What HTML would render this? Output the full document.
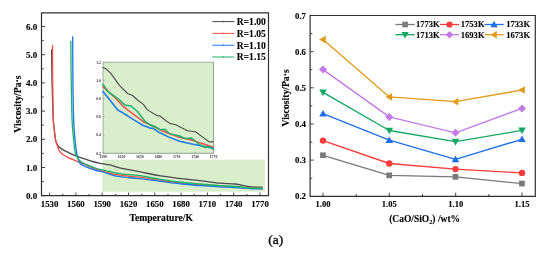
<!DOCTYPE html>
<html><head><meta charset="utf-8"><title>Figure</title>
<style>html,body{margin:0;padding:0;background:#fff;}svg{display:block}</style></head>
<body><svg width="550" height="253" viewBox="0 0 550 253">
<rect width="550" height="253" fill="#ffffff"/>
<rect x="102.3" y="159.7" width="162.6" height="32.0" fill="#d9efcb"/>
<rect x="103.1" y="62.2" width="110.4" height="91.1" fill="#d9efcb"/>
<path d="M103.1,153.3 L103.1,62.2 L213.5,62.2" fill="none" stroke="#9aa39a" stroke-width="0.9"/>
<path d="M103.1,153.3 L213.5,153.3 L213.5,62.2" fill="none" stroke="#808b7a" stroke-width="0.8"/>
<path d="M51.6,50.0 C51.7,55.0 51.8,70.8 52.0,80.0 C52.2,89.2 52.5,98.3 52.7,105.0 C52.9,111.7 53.0,115.8 53.3,120.0 C53.6,124.2 53.9,126.6 54.3,129.9 C54.7,133.2 55.1,137.5 55.5,139.8 C55.9,142.1 56.4,142.5 56.9,143.7 C57.4,144.8 57.8,145.7 58.8,146.7 C59.8,147.7 61.1,148.6 62.8,149.6 C64.5,150.6 66.4,151.5 68.7,152.6 C71.0,153.7 73.9,155.1 76.6,156.2 C79.3,157.2 82.3,158.0 84.9,158.9 C87.5,159.8 89.9,160.8 92.4,161.5 C94.9,162.2 97.1,162.8 100.0,163.4 C102.9,164.0 106.6,164.1 109.9,164.8 C113.2,165.5 114.9,166.7 119.8,167.8 C124.7,169.0 132.9,170.4 139.5,171.7 C146.1,173.0 152.7,174.6 159.3,175.7 C165.9,176.8 172.2,177.5 179.0,178.3 C185.8,179.1 193.1,179.8 199.8,180.6 C206.6,181.4 213.6,182.6 219.5,183.2 C225.4,183.8 230.4,183.4 235.3,184.0 C240.2,184.6 244.8,186.1 249.2,186.6 C253.6,187.1 259.9,187.1 262.0,187.2" fill="none" stroke="#4a4a4a" stroke-width="1.3" stroke-linejoin="round" stroke-linecap="round"/>
<path d="M52.5,45.3 C52.5,51.1 52.6,70.0 52.7,80.0 C52.8,90.0 52.9,98.3 53.0,105.0 C53.1,111.7 53.1,115.8 53.3,120.0 C53.5,124.2 53.9,126.6 54.3,129.9 C54.7,133.2 55.0,137.2 55.5,139.8 C56.0,142.4 56.7,143.9 57.3,145.7 C57.9,147.5 58.3,149.1 59.2,150.6 C60.1,152.1 61.2,153.4 62.8,154.6 C64.4,155.8 66.4,156.8 68.7,157.9 C71.0,159.0 73.9,160.0 76.6,161.1 C79.3,162.2 81.9,163.2 84.9,164.5 C87.9,165.8 91.5,167.6 94.8,168.8 C98.1,170.0 100.8,170.8 105.0,171.9 C109.2,173.0 114.0,174.3 119.8,175.2 C125.5,176.1 132.9,176.4 139.5,177.2 C146.1,178.0 152.7,179.3 159.3,180.2 C165.9,181.1 172.2,182.0 179.0,182.8 C185.8,183.6 193.1,184.2 199.8,184.8 C206.6,185.4 213.6,185.8 219.5,186.2 C225.4,186.6 230.4,186.7 235.3,187.0 C240.2,187.3 244.8,187.9 249.2,188.2 C253.6,188.5 259.9,188.6 262.0,188.7" fill="none" stroke="#f0504f" stroke-width="1.3" stroke-linejoin="round" stroke-linecap="round"/>
<path d="M72.7,36.8 C72.7,44.0 72.8,68.6 72.9,80.0 C73.0,91.4 73.2,98.3 73.3,105.0 C73.4,111.7 73.5,115.8 73.7,120.0 C73.9,124.2 74.0,126.6 74.2,129.9 C74.4,133.2 74.7,136.5 75.0,139.8 C75.3,143.1 75.8,146.7 76.2,149.6 C76.6,152.5 76.9,155.2 77.6,157.5 C78.3,159.8 79.0,162.0 80.2,163.5 C81.4,165.0 82.5,165.3 84.9,166.4 C87.3,167.5 91.5,169.0 94.8,170.0 C98.1,171.0 102.5,171.9 105.0,172.6 C107.5,173.3 107.4,173.6 109.9,174.3 C112.4,175.0 114.9,176.0 119.8,176.7 C124.7,177.4 132.9,177.9 139.5,178.7 C146.1,179.4 152.7,180.4 159.3,181.2 C165.9,182.0 172.2,182.9 179.0,183.6 C185.8,184.3 193.1,185.1 199.8,185.6 C206.6,186.1 213.6,186.5 219.5,186.8 C225.4,187.1 230.4,187.2 235.3,187.5 C240.2,187.8 244.8,188.2 249.2,188.5 C253.6,188.8 259.9,188.9 262.0,189.0" fill="none" stroke="#1e78e6" stroke-width="1.35" stroke-linejoin="round" stroke-linecap="round"/>
<path d="M70.8,41.3 C70.9,47.8 71.0,69.4 71.2,80.0 C71.4,90.6 71.6,98.3 71.7,105.0 C71.8,111.7 71.9,115.8 72.1,120.0 C72.3,124.2 72.4,126.6 72.7,129.9 C73.0,133.2 73.4,136.5 73.7,139.8 C74.0,143.1 74.1,146.8 74.6,149.6 C75.1,152.4 75.8,154.8 76.6,156.6 C77.4,158.4 78.2,159.3 79.6,160.5 C81.0,161.7 82.4,162.6 84.9,163.8 C87.4,165.0 92.3,166.9 94.8,167.8 C97.3,168.7 97.5,168.8 100.0,169.4 C102.5,170.0 106.6,170.8 109.9,171.5 C113.2,172.2 114.9,173.0 119.8,173.7 C124.7,174.4 132.9,174.8 139.5,175.7 C146.1,176.6 152.7,178.1 159.3,179.2 C165.9,180.2 172.2,181.2 179.0,182.0 C185.8,182.8 193.1,183.4 199.8,184.0 C206.6,184.6 213.6,185.2 219.5,185.6 C225.4,186.0 230.4,186.1 235.3,186.5 C240.2,186.9 244.8,187.7 249.2,188.0 C253.6,188.3 259.9,188.4 262.0,188.5" fill="none" stroke="#1faf6a" stroke-width="1.3" stroke-linejoin="round" stroke-linecap="round"/>
<path d="M102.9,67.5 L106.0,68.8 L110.8,73.4 L119.7,85.6 L127.6,93.5 L132.6,95.5 L137.5,100.0 L143.4,104.4 L147.4,109.9 L157.3,115.8 L159.9,115.9 L166.0,120.8 L169.8,123.4 L175.7,124.8 L187.5,130.7 L195.5,131.7 L203.4,137.6 L209.3,142.0 L213.2,141.6" fill="none" stroke="#4a4a4a" stroke-width="1.1" stroke-linejoin="round" stroke-linecap="round"/>
<path d="M102.9,86.6 L115.8,98.5 L123.7,106.9 L131.6,112.8 L143.4,121.7 L150.0,124.8 L159.9,129.7 L169.8,134.0 L179.6,137.2 L191.5,140.0 L199.4,142.6 L205.3,144.5 L213.2,147.1" fill="none" stroke="#f0504f" stroke-width="1.5" stroke-linejoin="round" stroke-linecap="round"/>
<path d="M102.9,91.6 L107.9,97.5 L109.8,100.0 L117.7,109.9 L127.6,115.8 L141.5,124.7 L150.0,128.1 L153.0,128.3 L157.9,131.7 L169.8,137.6 L179.6,141.2 L189.5,143.5 L199.4,145.5 L209.3,147.5 L213.2,148.5" fill="none" stroke="#1e78e6" stroke-width="1.6" stroke-linejoin="round" stroke-linecap="round"/>
<path d="M102.9,84.1 L107.9,91.6 L115.8,97.1 L119.7,100.0 L124.7,104.9 L130.6,105.9 L137.5,111.5 L145.4,121.7 L150.0,124.8 L155.3,126.7 L159.9,129.7 L164.8,129.3 L169.8,133.7 L179.6,136.0 L185.6,138.6 L191.5,138.0 L199.4,144.5 L205.3,147.5 L209.3,146.5 L213.2,149.1" fill="none" stroke="#1faf6a" stroke-width="1.5" stroke-linejoin="round" stroke-linecap="round"/>
<line x1="103.1" y1="62.2" x2="104.6" y2="62.2" stroke="#777" stroke-width="0.4"/>
<text x="100.9" y="63.5" text-anchor="end" style="font-family:'Liberation Serif',serif;font-size:3.8px;font-weight:bold" fill="#333">1.2</text>
<line x1="103.1" y1="80.4" x2="104.6" y2="80.4" stroke="#777" stroke-width="0.4"/>
<text x="100.9" y="81.7" text-anchor="end" style="font-family:'Liberation Serif',serif;font-size:3.8px;font-weight:bold" fill="#333">1.0</text>
<line x1="103.1" y1="98.6" x2="104.6" y2="98.6" stroke="#777" stroke-width="0.4"/>
<text x="100.9" y="99.9" text-anchor="end" style="font-family:'Liberation Serif',serif;font-size:3.8px;font-weight:bold" fill="#333">0.8</text>
<line x1="103.1" y1="116.9" x2="104.6" y2="116.9" stroke="#777" stroke-width="0.4"/>
<text x="100.9" y="118.2" text-anchor="end" style="font-family:'Liberation Serif',serif;font-size:3.8px;font-weight:bold" fill="#333">0.6</text>
<line x1="103.1" y1="135.1" x2="104.6" y2="135.1" stroke="#777" stroke-width="0.4"/>
<text x="100.9" y="136.4" text-anchor="end" style="font-family:'Liberation Serif',serif;font-size:3.8px;font-weight:bold" fill="#333">0.4</text>
<line x1="103.1" y1="153.3" x2="104.6" y2="153.3" stroke="#777" stroke-width="0.4"/>
<text x="100.9" y="154.6" text-anchor="end" style="font-family:'Liberation Serif',serif;font-size:3.8px;font-weight:bold" fill="#333">0.2</text>
<line x1="103.1" y1="153.3" x2="103.1" y2="151.8" stroke="#777" stroke-width="0.4"/>
<text x="103.1" y="158.0" text-anchor="middle" style="font-family:'Liberation Serif',serif;font-size:3.8px;font-weight:bold" fill="#333">1590</text>
<line x1="121.5" y1="153.3" x2="121.5" y2="151.8" stroke="#777" stroke-width="0.4"/>
<text x="121.5" y="158.0" text-anchor="middle" style="font-family:'Liberation Serif',serif;font-size:3.8px;font-weight:bold" fill="#333">1620</text>
<line x1="139.9" y1="153.3" x2="139.9" y2="151.8" stroke="#777" stroke-width="0.4"/>
<text x="139.9" y="158.0" text-anchor="middle" style="font-family:'Liberation Serif',serif;font-size:3.8px;font-weight:bold" fill="#333">1650</text>
<line x1="158.3" y1="153.3" x2="158.3" y2="151.8" stroke="#777" stroke-width="0.4"/>
<text x="158.3" y="158.0" text-anchor="middle" style="font-family:'Liberation Serif',serif;font-size:3.8px;font-weight:bold" fill="#333">1680</text>
<line x1="176.7" y1="153.3" x2="176.7" y2="151.8" stroke="#777" stroke-width="0.4"/>
<text x="176.7" y="158.0" text-anchor="middle" style="font-family:'Liberation Serif',serif;font-size:3.8px;font-weight:bold" fill="#333">1710</text>
<line x1="195.1" y1="153.3" x2="195.1" y2="151.8" stroke="#777" stroke-width="0.4"/>
<text x="195.1" y="158.0" text-anchor="middle" style="font-family:'Liberation Serif',serif;font-size:3.8px;font-weight:bold" fill="#333">1740</text>
<line x1="213.5" y1="153.3" x2="213.5" y2="151.8" stroke="#777" stroke-width="0.4"/>
<text x="213.5" y="158.0" text-anchor="middle" style="font-family:'Liberation Serif',serif;font-size:3.8px;font-weight:bold" fill="#333">1770</text>
<path d="M41.5,195.7 L41.5,12.9 L268.5,12.9 L268.5,195.7 Z" fill="none" stroke="#303030" stroke-width="1.2"/>
<line x1="41.5" y1="195.7" x2="45.1" y2="195.7" stroke="#303030" stroke-width="0.9"/>
<text x="37.2" y="198.8" text-anchor="end" style="font-family:'Liberation Serif',serif;font-size:9px;font-weight:bold" fill="#000" stroke="#000" stroke-width="0.12">0.0</text>
<line x1="41.5" y1="181.6" x2="43.7" y2="181.6" stroke="#303030" stroke-width="0.9"/>
<line x1="41.5" y1="167.5" x2="45.1" y2="167.5" stroke="#303030" stroke-width="0.9"/>
<text x="37.2" y="170.6" text-anchor="end" style="font-family:'Liberation Serif',serif;font-size:9px;font-weight:bold" fill="#000" stroke="#000" stroke-width="0.12">1.0</text>
<line x1="41.5" y1="153.4" x2="43.7" y2="153.4" stroke="#303030" stroke-width="0.9"/>
<line x1="41.5" y1="139.3" x2="45.1" y2="139.3" stroke="#303030" stroke-width="0.9"/>
<text x="37.2" y="142.4" text-anchor="end" style="font-family:'Liberation Serif',serif;font-size:9px;font-weight:bold" fill="#000" stroke="#000" stroke-width="0.12">2.0</text>
<line x1="41.5" y1="125.2" x2="43.7" y2="125.2" stroke="#303030" stroke-width="0.9"/>
<line x1="41.5" y1="111.1" x2="45.1" y2="111.1" stroke="#303030" stroke-width="0.9"/>
<text x="37.2" y="114.2" text-anchor="end" style="font-family:'Liberation Serif',serif;font-size:9px;font-weight:bold" fill="#000" stroke="#000" stroke-width="0.12">3.0</text>
<line x1="41.5" y1="97.0" x2="43.7" y2="97.0" stroke="#303030" stroke-width="0.9"/>
<line x1="41.5" y1="82.9" x2="45.1" y2="82.9" stroke="#303030" stroke-width="0.9"/>
<text x="37.2" y="86.0" text-anchor="end" style="font-family:'Liberation Serif',serif;font-size:9px;font-weight:bold" fill="#000" stroke="#000" stroke-width="0.12">4.0</text>
<line x1="41.5" y1="68.8" x2="43.7" y2="68.8" stroke="#303030" stroke-width="0.9"/>
<line x1="41.5" y1="54.7" x2="45.1" y2="54.7" stroke="#303030" stroke-width="0.9"/>
<text x="37.2" y="57.8" text-anchor="end" style="font-family:'Liberation Serif',serif;font-size:9px;font-weight:bold" fill="#000" stroke="#000" stroke-width="0.12">5.0</text>
<line x1="41.5" y1="40.6" x2="43.7" y2="40.6" stroke="#303030" stroke-width="0.9"/>
<line x1="41.5" y1="26.5" x2="45.1" y2="26.5" stroke="#303030" stroke-width="0.9"/>
<text x="37.2" y="29.6" text-anchor="end" style="font-family:'Liberation Serif',serif;font-size:9px;font-weight:bold" fill="#000" stroke="#000" stroke-width="0.12">6.0</text>
<line x1="49.6" y1="195.7" x2="49.6" y2="192.6" stroke="#303030" stroke-width="0.9"/>
<text x="49.6" y="207" text-anchor="middle" style="font-family:'Liberation Serif',serif;font-size:8.8px;font-weight:bold" fill="#000" stroke="#000" stroke-width="0.12">1530</text>
<line x1="62.8" y1="195.7" x2="62.8" y2="193.89999999999998" stroke="#303030" stroke-width="0.9"/>
<line x1="75.9" y1="195.7" x2="75.9" y2="192.6" stroke="#303030" stroke-width="0.9"/>
<text x="75.9" y="207" text-anchor="middle" style="font-family:'Liberation Serif',serif;font-size:8.8px;font-weight:bold" fill="#000" stroke="#000" stroke-width="0.12">1560</text>
<line x1="89.1" y1="195.7" x2="89.1" y2="193.89999999999998" stroke="#303030" stroke-width="0.9"/>
<line x1="102.2" y1="195.7" x2="102.2" y2="192.6" stroke="#303030" stroke-width="0.9"/>
<text x="102.2" y="207" text-anchor="middle" style="font-family:'Liberation Serif',serif;font-size:8.8px;font-weight:bold" fill="#000" stroke="#000" stroke-width="0.12">1590</text>
<line x1="115.4" y1="195.7" x2="115.4" y2="193.89999999999998" stroke="#303030" stroke-width="0.9"/>
<line x1="128.5" y1="195.7" x2="128.5" y2="192.6" stroke="#303030" stroke-width="0.9"/>
<text x="128.5" y="207" text-anchor="middle" style="font-family:'Liberation Serif',serif;font-size:8.8px;font-weight:bold" fill="#000" stroke="#000" stroke-width="0.12">1620</text>
<line x1="141.7" y1="195.7" x2="141.7" y2="193.89999999999998" stroke="#303030" stroke-width="0.9"/>
<line x1="154.8" y1="195.7" x2="154.8" y2="192.6" stroke="#303030" stroke-width="0.9"/>
<text x="154.8" y="207" text-anchor="middle" style="font-family:'Liberation Serif',serif;font-size:8.8px;font-weight:bold" fill="#000" stroke="#000" stroke-width="0.12">1650</text>
<line x1="168.0" y1="195.7" x2="168.0" y2="193.89999999999998" stroke="#303030" stroke-width="0.9"/>
<line x1="181.1" y1="195.7" x2="181.1" y2="192.6" stroke="#303030" stroke-width="0.9"/>
<text x="181.1" y="207" text-anchor="middle" style="font-family:'Liberation Serif',serif;font-size:8.8px;font-weight:bold" fill="#000" stroke="#000" stroke-width="0.12">1680</text>
<line x1="194.3" y1="195.7" x2="194.3" y2="193.89999999999998" stroke="#303030" stroke-width="0.9"/>
<line x1="207.4" y1="195.7" x2="207.4" y2="192.6" stroke="#303030" stroke-width="0.9"/>
<text x="207.4" y="207" text-anchor="middle" style="font-family:'Liberation Serif',serif;font-size:8.8px;font-weight:bold" fill="#000" stroke="#000" stroke-width="0.12">1710</text>
<line x1="220.6" y1="195.7" x2="220.6" y2="193.89999999999998" stroke="#303030" stroke-width="0.9"/>
<line x1="233.7" y1="195.7" x2="233.7" y2="192.6" stroke="#303030" stroke-width="0.9"/>
<text x="233.7" y="207" text-anchor="middle" style="font-family:'Liberation Serif',serif;font-size:8.8px;font-weight:bold" fill="#000" stroke="#000" stroke-width="0.12">1740</text>
<line x1="246.9" y1="195.7" x2="246.9" y2="193.89999999999998" stroke="#303030" stroke-width="0.9"/>
<line x1="260.0" y1="195.7" x2="260.0" y2="192.6" stroke="#303030" stroke-width="0.9"/>
<text x="260.0" y="207" text-anchor="middle" style="font-family:'Liberation Serif',serif;font-size:8.8px;font-weight:bold" fill="#000" stroke="#000" stroke-width="0.12">1770</text>
<text x="161.2" y="220.5" text-anchor="middle" style="font-family:'Liberation Serif',serif;font-size:9.6px;font-weight:bold" fill="#000" stroke="#000" stroke-width="0.12">Temperature/K</text>
<text transform="translate(20.5,104.1) rotate(-90)" text-anchor="middle" style="font-family:'Liberation Serif',serif;font-size:9.7px;font-weight:bold" fill="#000" stroke="#000" stroke-width="0.12">Viscosity/Pa·s</text>
<line x1="212.3" y1="21.6" x2="234.4" y2="21.6" stroke="#4a4a4a" stroke-width="1.0"/>
<line x1="223.3" y1="20.7" x2="223.3" y2="22.5" stroke="#4a4a4a" stroke-width="0.8"/>
<text x="236.7" y="24.9" style="font-family:'Liberation Serif',serif;font-size:9.6px;font-weight:bold" fill="#000" stroke="#000" stroke-width="0.12">R=1.00</text>
<line x1="212.3" y1="33.4" x2="234.4" y2="33.4" stroke="#f0504f" stroke-width="1.0"/>
<line x1="223.3" y1="32.5" x2="223.3" y2="34.3" stroke="#f0504f" stroke-width="0.8"/>
<text x="236.7" y="36.7" style="font-family:'Liberation Serif',serif;font-size:9.6px;font-weight:bold" fill="#000" stroke="#000" stroke-width="0.12">R=1.05</text>
<line x1="212.3" y1="45.2" x2="234.4" y2="45.2" stroke="#1e78e6" stroke-width="1.0"/>
<line x1="223.3" y1="44.3" x2="223.3" y2="46.1" stroke="#1e78e6" stroke-width="0.8"/>
<text x="236.7" y="48.5" style="font-family:'Liberation Serif',serif;font-size:9.6px;font-weight:bold" fill="#000" stroke="#000" stroke-width="0.12">R=1.10</text>
<line x1="212.3" y1="57.0" x2="234.4" y2="57.0" stroke="#1faf6a" stroke-width="1.0"/>
<line x1="223.3" y1="56.1" x2="223.3" y2="57.9" stroke="#1faf6a" stroke-width="0.8"/>
<text x="236.7" y="60.3" style="font-family:'Liberation Serif',serif;font-size:9.6px;font-weight:bold" fill="#000" stroke="#000" stroke-width="0.12">R=1.15</text>
<path d="M323.0,155.3 L389.3,175.4 L455.5,176.9 L522.0,183.6" fill="none" stroke="#7a7a7a" stroke-width="1.35" stroke-linejoin="round" stroke-linecap="round"/>
<rect x="320.1" y="152.4" width="5.7" height="5.7" fill="#7a7a7a"/>
<rect x="386.4" y="172.5" width="5.7" height="5.7" fill="#7a7a7a"/>
<rect x="452.6" y="174.0" width="5.7" height="5.7" fill="#7a7a7a"/>
<rect x="519.1" y="180.7" width="5.7" height="5.7" fill="#7a7a7a"/>
<path d="M323.0,140.6 L389.3,163.5 L455.5,169.1 L522.0,172.9" fill="none" stroke="#fa3c3c" stroke-width="1.35" stroke-linejoin="round" stroke-linecap="round"/>
<circle cx="323.0" cy="140.6" r="3.2" fill="#fa3c3c"/>
<circle cx="389.3" cy="163.5" r="3.2" fill="#fa3c3c"/>
<circle cx="455.5" cy="169.1" r="3.2" fill="#fa3c3c"/>
<circle cx="522.0" cy="172.9" r="3.2" fill="#fa3c3c"/>
<path d="M323.0,113.7 L389.3,140.2 L455.5,159.4 L522.0,139.3" fill="none" stroke="#1f6fe8" stroke-width="1.35" stroke-linejoin="round" stroke-linecap="round"/>
<path d="M323.0,109.9 L326.8,116.5 L319.2,116.5 Z" fill="#1f6fe8"/>
<path d="M389.3,136.4 L393.1,143.0 L385.5,143.0 Z" fill="#1f6fe8"/>
<path d="M455.5,155.6 L459.3,162.2 L451.7,162.2 Z" fill="#1f6fe8"/>
<path d="M522.0,135.5 L525.8,142.1 L518.2,142.1 Z" fill="#1f6fe8"/>
<path d="M323.0,92.3 L389.3,130.5 L455.5,141.6 L522.0,130.4" fill="none" stroke="#12a861" stroke-width="1.35" stroke-linejoin="round" stroke-linecap="round"/>
<path d="M323.0,96.1 L326.8,89.5 L319.2,89.5 Z" fill="#12a861"/>
<path d="M389.3,134.3 L393.1,127.7 L385.5,127.7 Z" fill="#12a861"/>
<path d="M455.5,145.4 L459.3,138.8 L451.7,138.8 Z" fill="#12a861"/>
<path d="M522.0,134.2 L525.8,127.6 L518.2,127.6 Z" fill="#12a861"/>
<path d="M323.0,69.6 L389.3,116.9 L455.5,132.8 L522.0,108.4" fill="none" stroke="#c479e6" stroke-width="1.35" stroke-linejoin="round" stroke-linecap="round"/>
<path d="M323.0,65.6 L327.0,69.6 L323.0,73.6 L319.0,69.6 Z" fill="#c479e6"/>
<path d="M389.3,112.9 L393.3,116.9 L389.3,120.9 L385.3,116.9 Z" fill="#c479e6"/>
<path d="M455.5,128.8 L459.5,132.8 L455.5,136.8 L451.5,132.8 Z" fill="#c479e6"/>
<path d="M522.0,104.4 L526.0,108.4 L522.0,112.4 L518.0,108.4 Z" fill="#c479e6"/>
<path d="M323.0,39.6 L389.3,96.9 L455.5,101.7 L522.0,90.0" fill="none" stroke="#e09b1c" stroke-width="1.35" stroke-linejoin="round" stroke-linecap="round"/>
<path d="M319.2,39.6 L325.8,35.8 L325.8,43.4 Z" fill="#e09b1c"/>
<path d="M385.5,96.9 L392.1,93.1 L392.1,100.7 Z" fill="#e09b1c"/>
<path d="M451.7,101.7 L458.3,97.9 L458.3,105.5 Z" fill="#e09b1c"/>
<path d="M518.2,90.0 L524.8,86.2 L524.8,93.8 Z" fill="#e09b1c"/>
<path d="M310.1,196.3 L310.1,15.5 L535.3,15.5 L535.3,196.3 Z" fill="none" stroke="#303030" stroke-width="1.2"/>
<text x="306" y="199.3" text-anchor="end" style="font-family:'Liberation Serif',serif;font-size:8.8px;font-weight:bold" fill="#000" stroke="#000" stroke-width="0.12">0.2</text>
<line x1="310.1" y1="178.2" x2="312.3" y2="178.2" stroke="#303030" stroke-width="0.9"/>
<line x1="310.1" y1="160.1" x2="313.70000000000005" y2="160.1" stroke="#303030" stroke-width="0.9"/>
<text x="306" y="163.1" text-anchor="end" style="font-family:'Liberation Serif',serif;font-size:8.8px;font-weight:bold" fill="#000" stroke="#000" stroke-width="0.12">0.3</text>
<line x1="310.1" y1="142.1" x2="312.3" y2="142.1" stroke="#303030" stroke-width="0.9"/>
<line x1="310.1" y1="124.0" x2="313.70000000000005" y2="124.0" stroke="#303030" stroke-width="0.9"/>
<text x="306" y="127.0" text-anchor="end" style="font-family:'Liberation Serif',serif;font-size:8.8px;font-weight:bold" fill="#000" stroke="#000" stroke-width="0.12">0.4</text>
<line x1="310.1" y1="105.9" x2="312.3" y2="105.9" stroke="#303030" stroke-width="0.9"/>
<line x1="310.1" y1="87.8" x2="313.70000000000005" y2="87.8" stroke="#303030" stroke-width="0.9"/>
<text x="306" y="90.8" text-anchor="end" style="font-family:'Liberation Serif',serif;font-size:8.8px;font-weight:bold" fill="#000" stroke="#000" stroke-width="0.12">0.5</text>
<line x1="310.1" y1="69.7" x2="312.3" y2="69.7" stroke="#303030" stroke-width="0.9"/>
<line x1="310.1" y1="51.7" x2="313.70000000000005" y2="51.7" stroke="#303030" stroke-width="0.9"/>
<text x="306" y="54.7" text-anchor="end" style="font-family:'Liberation Serif',serif;font-size:8.8px;font-weight:bold" fill="#000" stroke="#000" stroke-width="0.12">0.6</text>
<line x1="310.1" y1="33.6" x2="312.3" y2="33.6" stroke="#303030" stroke-width="0.9"/>
<text x="306" y="18.5" text-anchor="end" style="font-family:'Liberation Serif',serif;font-size:8.8px;font-weight:bold" fill="#000" stroke="#000" stroke-width="0.12">0.7</text>
<line x1="323.0" y1="196.3" x2="323.0" y2="192.70000000000002" stroke="#303030" stroke-width="0.9"/>
<text x="323.0" y="207.4" text-anchor="middle" style="font-family:'Liberation Serif',serif;font-size:8.5px;font-weight:bold" fill="#000" stroke="#000" stroke-width="0.12">1.00</text>
<line x1="356.2" y1="196.3" x2="356.2" y2="194.10000000000002" stroke="#303030" stroke-width="0.9"/>
<line x1="389.3" y1="196.3" x2="389.3" y2="192.70000000000002" stroke="#303030" stroke-width="0.9"/>
<text x="389.3" y="207.4" text-anchor="middle" style="font-family:'Liberation Serif',serif;font-size:8.5px;font-weight:bold" fill="#000" stroke="#000" stroke-width="0.12">1.05</text>
<line x1="422.5" y1="196.3" x2="422.5" y2="194.10000000000002" stroke="#303030" stroke-width="0.9"/>
<line x1="455.7" y1="196.3" x2="455.7" y2="192.70000000000002" stroke="#303030" stroke-width="0.9"/>
<text x="455.7" y="207.4" text-anchor="middle" style="font-family:'Liberation Serif',serif;font-size:8.5px;font-weight:bold" fill="#000" stroke="#000" stroke-width="0.12">1.10</text>
<line x1="488.8" y1="196.3" x2="488.8" y2="194.10000000000002" stroke="#303030" stroke-width="0.9"/>
<line x1="522.0" y1="196.3" x2="522.0" y2="192.70000000000002" stroke="#303030" stroke-width="0.9"/>
<text x="522.0" y="207.4" text-anchor="middle" style="font-family:'Liberation Serif',serif;font-size:8.5px;font-weight:bold" fill="#000" stroke="#000" stroke-width="0.12">1.15</text>
<text x="424.6" y="221.5" text-anchor="middle" style="font-family:'Liberation Serif',serif;font-size:9.5px;font-weight:bold" fill="#000" stroke="#000" stroke-width="0.12">(CaO/SiO<tspan font-size="6.2px" dy="2">2</tspan><tspan dy="-2">) /wt%</tspan></text>
<text transform="translate(289.3,97.9) rotate(-90)" text-anchor="middle" style="font-family:'Liberation Serif',serif;font-size:9.7px;font-weight:bold" fill="#000" stroke="#000" stroke-width="0.12">Viscosity/Pa·s</text>
<line x1="395.4" y1="24.5" x2="414.7" y2="24.5" stroke="#7a7a7a" stroke-width="1.3"/>
<rect x="402.3" y="21.7" width="5.6" height="5.6" fill="#7a7a7a"/>
<text x="415.9" y="27.4" style="font-family:'Liberation Serif',serif;font-size:8.55px;font-weight:bold" fill="#000" stroke="#000" stroke-width="0.12">1773K</text>
<line x1="439.9" y1="24.5" x2="459.2" y2="24.5" stroke="#fa3c3c" stroke-width="1.3"/>
<circle cx="449.5" cy="24.5" r="3.1" fill="#fa3c3c"/>
<text x="460.8" y="27.4" style="font-family:'Liberation Serif',serif;font-size:8.55px;font-weight:bold" fill="#000" stroke="#000" stroke-width="0.12">1753K</text>
<line x1="484.4" y1="24.5" x2="503.7" y2="24.5" stroke="#1f6fe8" stroke-width="1.3"/>
<path d="M494.0,20.8 L497.7,27.2 L490.4,27.2 Z" fill="#1f6fe8"/>
<text x="506.3" y="27.4" style="font-family:'Liberation Serif',serif;font-size:8.55px;font-weight:bold" fill="#000" stroke="#000" stroke-width="0.12">1733K</text>
<line x1="395.4" y1="34.7" x2="414.7" y2="34.7" stroke="#12a861" stroke-width="1.3"/>
<path d="M405.0,38.4 L408.7,32.0 L401.4,32.0 Z" fill="#12a861"/>
<text x="415.9" y="37.6" style="font-family:'Liberation Serif',serif;font-size:8.55px;font-weight:bold" fill="#000" stroke="#000" stroke-width="0.12">1713K</text>
<line x1="439.9" y1="34.7" x2="459.2" y2="34.7" stroke="#c479e6" stroke-width="1.3"/>
<path d="M449.5,30.9 L453.4,34.7 L449.5,38.5 L445.7,34.7 Z" fill="#c479e6"/>
<text x="460.8" y="37.6" style="font-family:'Liberation Serif',serif;font-size:8.55px;font-weight:bold" fill="#000" stroke="#000" stroke-width="0.12">1693K</text>
<line x1="484.4" y1="34.7" x2="503.7" y2="34.7" stroke="#e09b1c" stroke-width="1.3"/>
<path d="M490.4,34.7 L496.8,31.0 L496.8,38.4 Z" fill="#e09b1c"/>
<text x="506.3" y="37.6" style="font-family:'Liberation Serif',serif;font-size:8.55px;font-weight:bold" fill="#000" stroke="#000" stroke-width="0.12">1673K</text>
<text x="275.8" y="243.6" text-anchor="middle" style="font-family:'Liberation Serif',serif;font-size:13.5px" fill="#111" stroke="#111" stroke-width="0.4">(a)</text>
</svg></body></html>
